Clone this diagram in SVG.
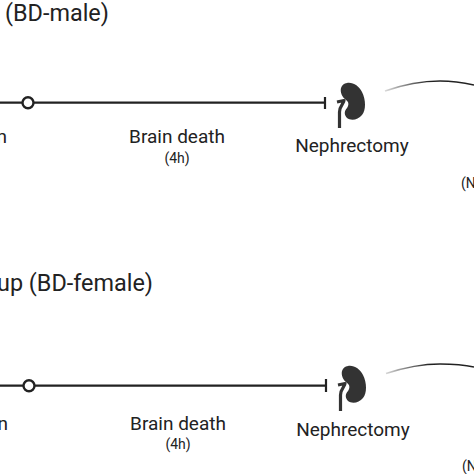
<svg xmlns="http://www.w3.org/2000/svg" width="474" height="474" viewBox="0 0 474 474">
<style>
text{font-family:Roboto,"Liberation Sans",sans-serif;fill:#222}
.t{font-size:23.4px}
.l{font-size:19px}
.s{font-size:14px}
.m{text-anchor:middle}
.e{text-anchor:end}
.ln{stroke:#222;stroke-width:2.2;fill:none}
.c{fill:#fff;stroke:#222;stroke-width:2.4}
.k{fill:#333}
.v{stroke:#333;stroke-width:3.2;fill:none;stroke-linejoin:round}
.a{fill:none;stroke-width:1.6}
</style>
<defs>
<linearGradient id="f" gradientUnits="userSpaceOnUse" x1="384" y1="0" x2="430" y2="0"><stop offset="0" stop-color="#222" stop-opacity=".15"/><stop offset="1" stop-color="#222"/></linearGradient>
<g id="kidney"><path class="k" d="M347 83C353 82 359 86 362 92C366 100 366 110 362 115C358 120 351 121 347 118C344 115 344 111 347 108C349 105 349 102 346 100C342 97 340 92 341 88C342 85 344 83.500 347 83Z"/><path class="v" d="M337 102L344 100.500C344 103 339.500 106 339.500 112V128"/></g>
</defs>
<g id="connectors">
<path class="ln" d="M0 102.700H325M325 97V109"/>
<path class="ln" d="M0 385.700H326M326 379V392"/>
<path class="a" stroke="url(#f)" d="M385 91C405 84 425 81 440 81S465 83 474 85"/>
<path class="a" stroke="url(#f)" d="M386 373.500C406 367 425 364 440 364S465 365 474 367"/>
</g>
<g id="title-male"><text class="t" x="5" y="21">(BD-male)</text></g>
<g id="title-female"><text class="t e" x="153" y="291">up (BD-female)</text></g>
<g id="start-male"><circle class="c" cx="28" cy="102.700" r="5.500"/><text class="l" x="-3.500" y="143">n</text></g>
<g id="start-female"><circle class="c" cx="29" cy="385.700" r="5.500"/><text class="l" x="-2.500" y="430">n</text></g>
<g id="bd-male"><text class="l m" x="177" y="143">Brain death</text><text class="s m" x="177" y="162.500">(4h)</text></g>
<g id="bd-female"><text class="l m" x="178" y="430">Brain death</text><text class="s m" x="178" y="449">(4h)</text></g>
<g id="neph-male"><use href="#kidney"/><text class="l m" x="352" y="152">Nephrectomy</text></g>
<g id="neph-female"><use href="#kidney" x="1" y="283"/><text class="l m" x="353" y="436">Nephrectomy</text></g>
<g id="out-male"><text class="s" x="461" y="188">(N</text></g>
<g id="out-female"><text class="s" x="462" y="471">(N</text></g>
</svg>
